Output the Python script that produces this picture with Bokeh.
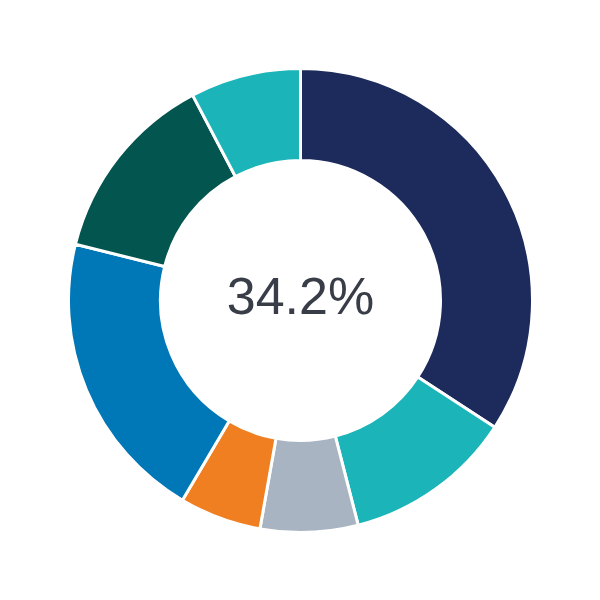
import math
from bokeh.plotting import figure
from bokeh.models import ColumnDataSource
from bokeh.core.properties import value
from bokeh.embed import file_html
from bokeh.resources import INLINE

categories = ["A", "B", "C", "D", "E", "F", "G"]
values = [34.2, 11.8, 6.8, 5.7, 20.4, 13.4, 7.7]
colors = ["#1c2b5b", "#1bb5b9", "#a8b4c2", "#f07f21", "#0077b6", "#03564f", "#1bb5b9"]
center_label = "34.2%"

total = sum(values)
starts, ends = [], []
cum = 0.0
for v in values:
    starts.append(math.pi / 2 - cum / total * 2 * math.pi)
    cum += v
    ends.append(math.pi / 2 - cum / total * 2 * math.pi)

src = ColumnDataSource(dict(cat=categories, val=values, color=colors, start=starts, end=ends))

p = figure(width=584, height=584, x_range=(-300, 284), y_range=(-284, 300),
           output_backend="svg", toolbar_location=None, min_border=0)
p.axis.visible = False
p.grid.visible = False
p.outline_line_color = None
p.background_fill_color = "white"

p.annular_wedge(x=0, y=0, inner_radius=140, outer_radius=232,
                start_angle="start", end_angle="end", direction="clock",
                fill_color="color", line_color="white", line_width=3, source=src)

p.text(x=[0], y=[0], y_offset=-5, text=[center_label], text_align="center", text_baseline="middle",
       text_font=value("Liberation Sans"), text_font_size="52px", text_color="#383d47")

open("out.html", "w").write(file_html(p, INLINE))
